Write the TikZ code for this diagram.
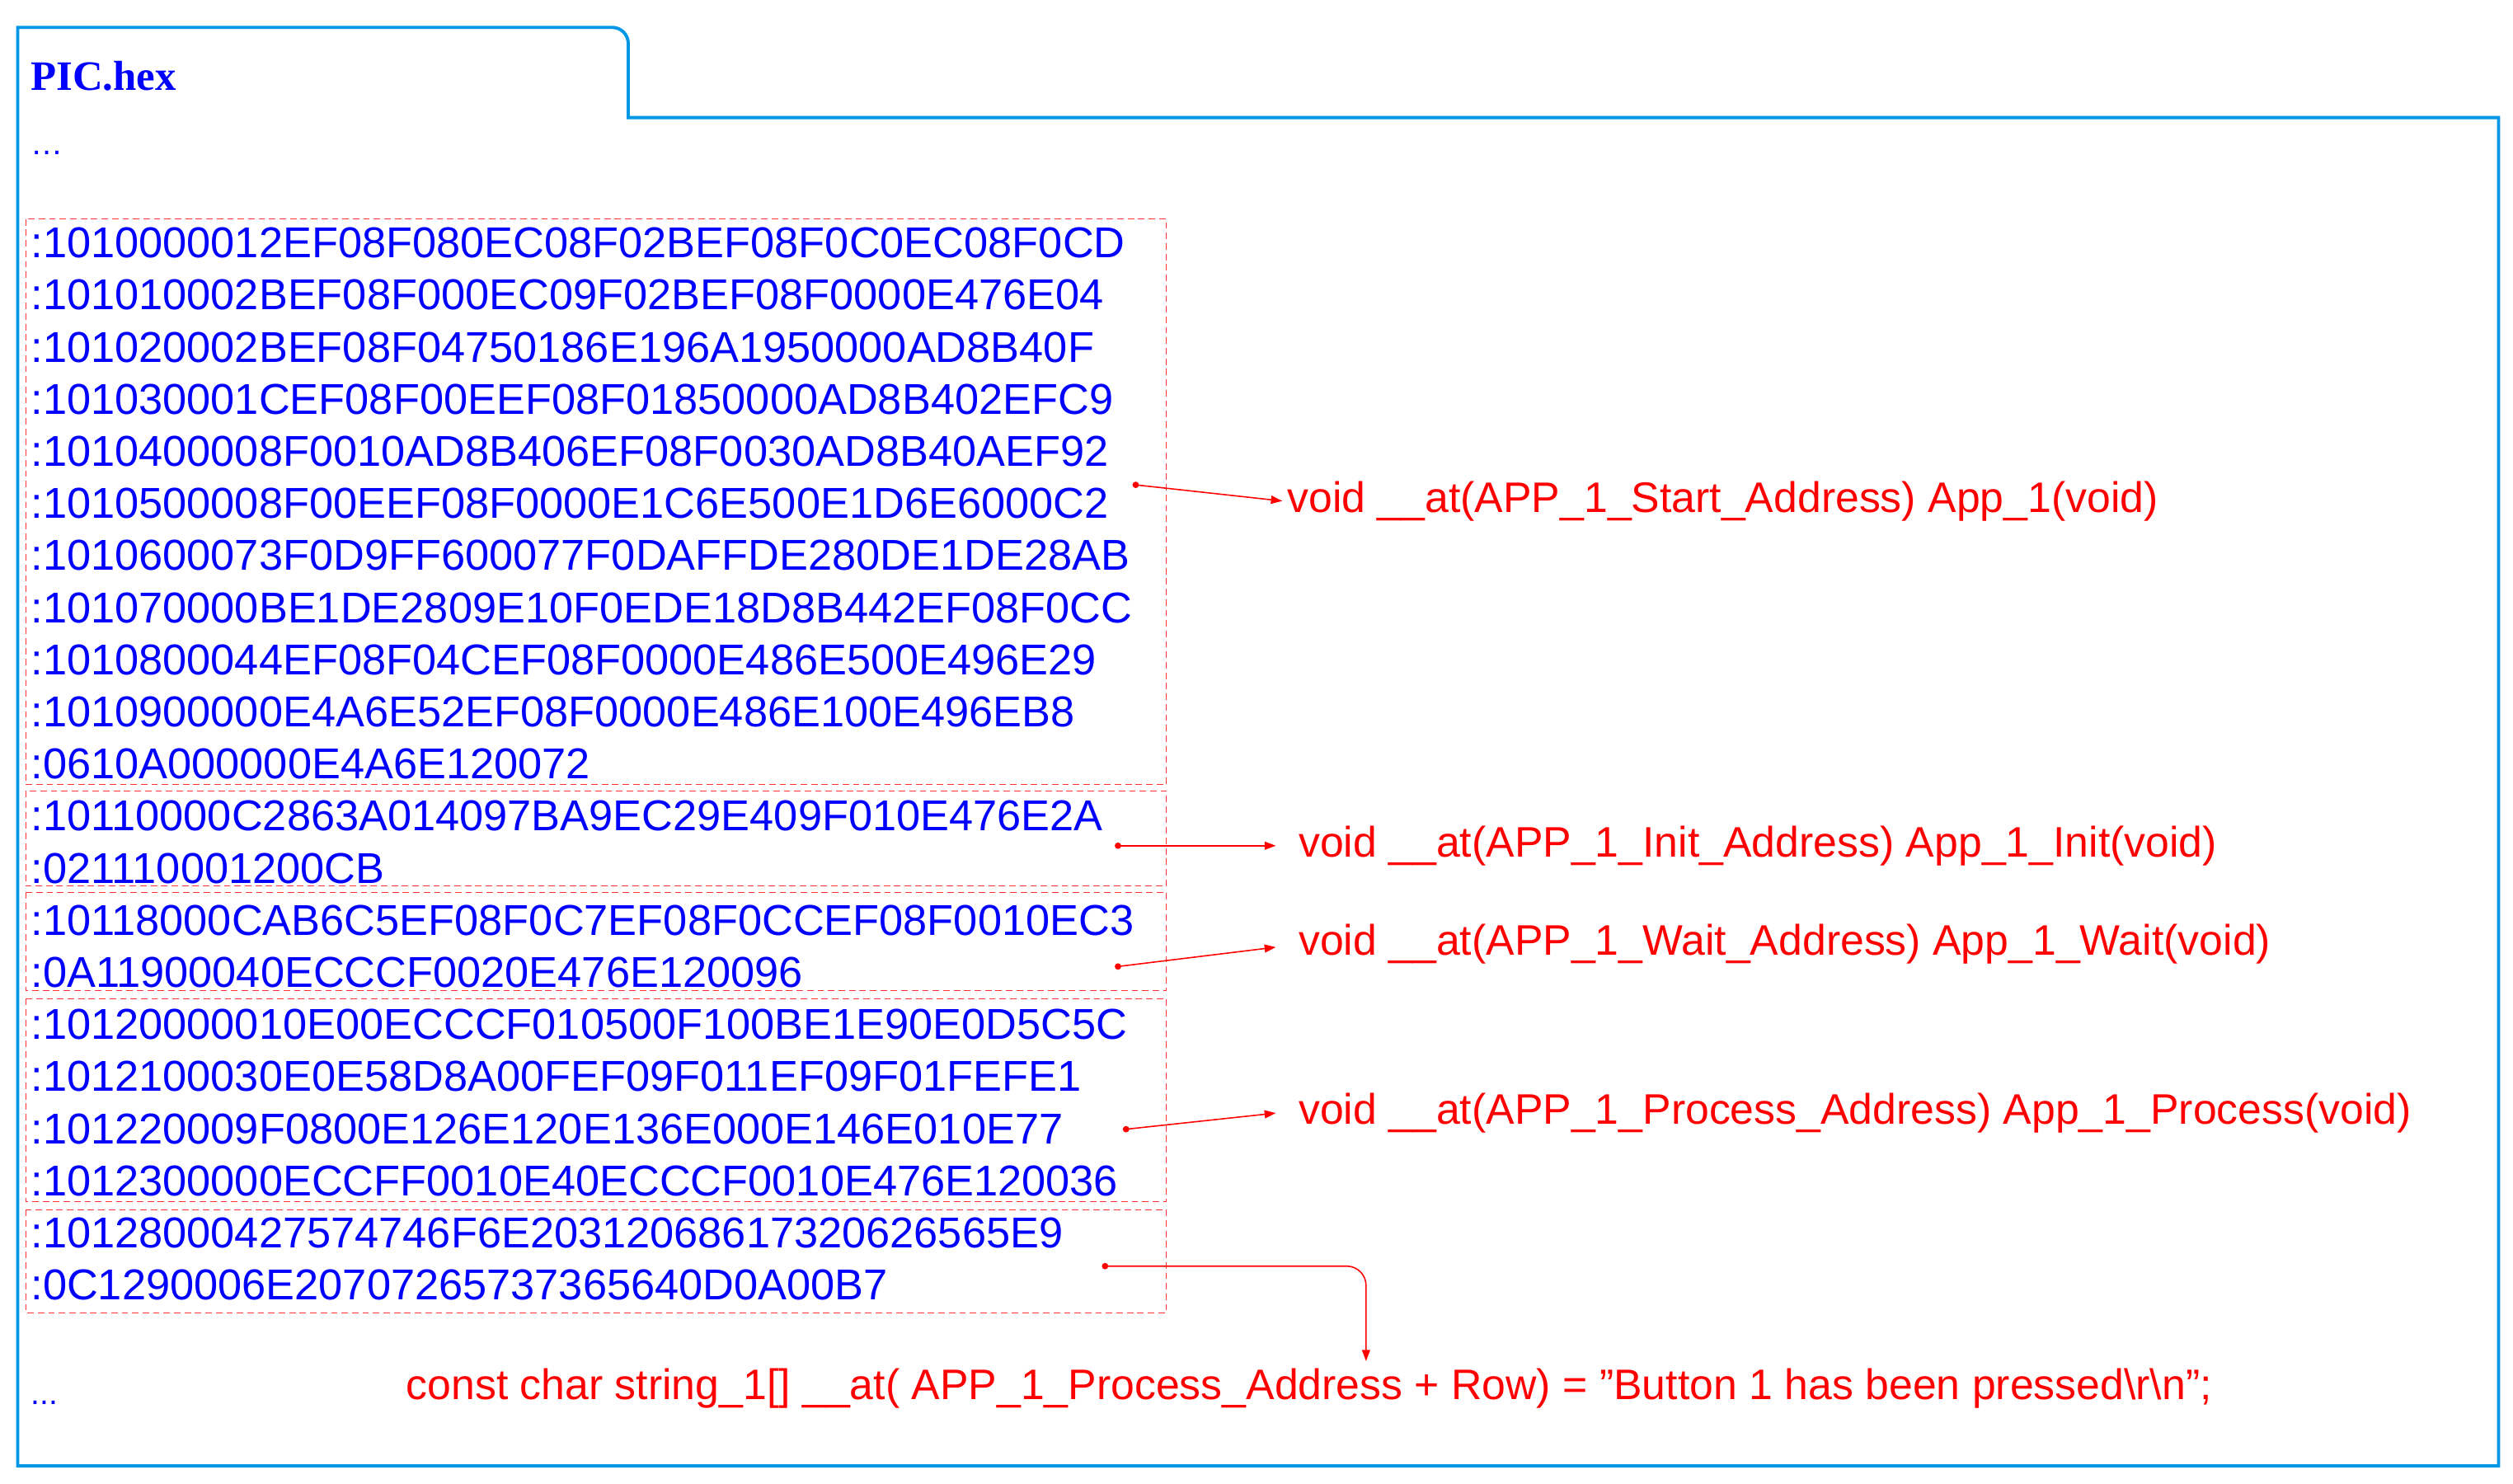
\documentclass[tikz,border=0pt]{standalone}
\usepackage{fontspec}
\setmainfont{Liberation Sans}
\newfontfamily\serifb{Liberation Serif}
\usetikzlibrary{arrows.meta}
\definecolor{frame}{RGB}{0,150,230}
\definecolor{hexblue}{RGB}{0,0,255}
\definecolor{lab}{RGB}{255,0,0}
\tikzset{
  hex/.style={anchor=base west,inner sep=0pt,text=hexblue,font=\fontsize{26.8}{26.8}\selectfont},
  lbl/.style={anchor=base west,inner sep=0pt,text=lab,font=\fontsize{26.5}{26.5}\selectfont},
  grp/.style={draw=lab!80,dashed,line width=0.6pt,dash pattern=on 4pt off 2.5pt},
  conn/.style={draw=lab,line width=0.8pt,-{Triangle[length=7pt,width=5pt]}},
  dot/.style={circle,fill=lab,inner sep=0pt,minimum size=4pt}
}
\begin{document}
\begin{tikzpicture}[x=1pt,y=-1pt]
\useasboundingbox (0,0) rectangle (1560,921);
% frame
\draw[frame,line width=2pt,rounded corners=0pt] (11,910) -- (11,17) [rounded corners=10pt] -- (390,17) [rounded corners=0pt] -- (390,73) -- (1551,73) -- (1551,910) -- cycle;
\node[anchor=base west,inner sep=0pt,text=hexblue,font=\serifb\bfseries\fontsize{26}{26}\selectfont] (title) at (19,56) {PIC.hex};
\node[anchor=base west,inner sep=0pt,text=hexblue,font=\fontsize{20}{20}\selectfont] (dots1) at (19,96) {\ldots};
\node[anchor=base west,inner sep=0pt,text=hexblue,font=\fontsize{20}{20}\selectfont] (dots2) at (19,872) {...};
% group boxes
\draw[grp] (16,136) rectangle (724,487);
\draw[grp] (16,491) rectangle (724,550);
\draw[grp] (16,554) rectangle (724,615);
\draw[grp] (16,620) rectangle (724,746);
\draw[grp] (16,751) rectangle (724,815);
% hex lines
\foreach \t [count=\i] in {
:1010000012EF08F080EC08F02BEF08F0C0EC08F0CD,
:101010002BEF08F000EC09F02BEF08F0000E476E04,
:101020002BEF08F04750186E196A1950000AD8B40F,
:101030001CEF08F00EEF08F01850000AD8B402EFC9,
:1010400008F0010AD8B406EF08F0030AD8B40AEF92,
:1010500008F00EEF08F0000E1C6E500E1D6E6000C2,
:1010600073F0D9FF600077F0DAFFDE280DE1DE28AB,
:101070000BE1DE2809E10F0EDE18D8B442EF08F0CC,
:1010800044EF08F04CEF08F0000E486E500E496E29,
:1010900000E4A6E52EF08F0000E486E100E496EB8,
:0610A000000E4A6E120072,
:10110000C2863A014097BA9EC29E409F010E476E2A,
:021110001200CB,
:10118000CAB6C5EF08F0C7EF08F0CCEF08F0010EC3,
:0A11900040ECCCF0020E476E120096,
:10120000010E00ECCCF010500F100BE1E90E0D5C5C,
:1012100030E0E58D8A00FEF09F011EF09F01FEFE1,
:101220009F0800E126E120E136E000E146E010E77,
:1012300000ECCFF0010E40ECCCF0010E476E120036,
:10128000427574746F6E20312068617320626565E9,
:0C1290006E20707265737365640D0A00B7}
  { \node[hex] (h\i) at (19,{160+32.35*(\i-1)}) {\t}; }
% labels
\node[lbl] (l1) at (799,318) {void \_\_at(APP\_1\_Start\_Address) App\_1(void)};
\node[lbl] (l2) at (806,532) {void \_\_at(APP\_1\_Init\_Address) App\_1\_Init(void)};
\node[lbl] (l3) at (806,593) {void \_\_at(APP\_1\_Wait\_Address) App\_1\_Wait(void)};
\node[lbl] (l4) at (806,698) {void \_\_at(APP\_1\_Process\_Address) App\_1\_Process(void)};
\node[lbl] (l5) at (252,869) {const char string\_1[] \_\_at( APP\_1\_Process\_Address + Row) = \symbol{34}Button 1 has been pressed\textbackslash r\textbackslash n\symbol{34};};
% dots and connectors
\node[dot] (d1) at (705,301) {};
\node[dot] (d2) at (694,525) {};
\node[dot] (d3) at (694,600) {};
\node[dot] (d4) at (699,701) {};
\node[dot] (d5) at (686,786) {};
\coordinate (e1) at (796,311);
\coordinate (e2) at (792,525);
\coordinate (e3) at (792,588);
\coordinate (e4) at (792,691);
\coordinate (e5) at (848,845);
\draw[conn] (d1.center) -- (e1);
\draw[conn] (d2.center) -- (e2);
\draw[conn] (d3.center) -- (e3);
\draw[conn] (d4.center) -- (e4);
\draw[conn,rounded corners=12pt] (d5.center) -- (848,786) -- (e5);
\end{tikzpicture}
\end{document}
